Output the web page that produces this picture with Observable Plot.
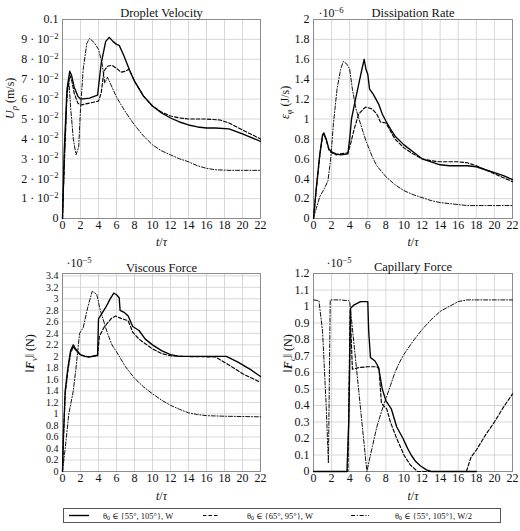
<!DOCTYPE html>
<html>
<head>
<meta charset="utf-8">
<script src="https://cdn.jsdelivr.net/npm/d3@7"></script>
<script src="https://cdn.jsdelivr.net/npm/@observablehq/plot@0.6"></script>
<style>
  body { margin: 0; background: #fff; }
  #wrap { position: relative; width: 520px; height: 531px; font-family: "Liberation Serif", "DejaVu Serif", serif; }
  .panel { position: absolute; }
  .panel svg { overflow: visible; display: block; }
  .panel svg text { font-family: "Liberation Serif", "DejaVu Serif", serif !important; }
  #legend { position: absolute; left: 63px; top: 508px; width: 438px; height: 15px; border: 1px solid #555; box-sizing: border-box; font-size: 8.5px; color: #111; }
  #legend .item { position: absolute; top: 1px; line-height: 12px; white-space: nowrap; }
  #legend svg { position: absolute; top: 0; }
  #legend sub { font-size: 6px; vertical-align: -1px; }
</style>
</head>
<body>
<div id="wrap">
  <div id="legend"></div>
</div>
<script>
// ---------- data ----------
const tTicks = [0, 2, 4, 6, 8, 10, 12, 14, 16, 18, 20, 22];

// Droplet velocity (units of 1e-2 m/s)
const velTicks = [0, 1, 2, 3, 4, 5, 6, 7, 8, 9, 10];
const velSolid = [[0,0],[0.2,3.5],[0.5,6.5],[0.8,7.4],[1.0,7.2],[1.3,6.6],[1.7,6.15],[2.0,6.0],[3.0,6.05],[3.9,6.2],[4.3,7.8],[4.8,8.9],[5.2,9.1],[5.6,8.9],[6.0,8.75],[6.3,8.7],[6.8,8.2],[7.5,7.4],[8.0,6.9],[9.0,6.15],[10.0,5.65],[11.0,5.3],[12.0,5.05],[13.0,4.85],[14.0,4.7],[15.0,4.6],[16.0,4.55],[17.0,4.55],[18.5,4.5],[20.0,4.25],[22.0,3.88]];
const velDashed = [[0,0],[0.2,3.0],[0.5,6.2],[0.8,7.2],[1.0,7.0],[1.3,6.3],[1.7,5.8],[2.0,5.7],[3.0,5.8],[4.0,5.9],[4.3,6.3],[4.6,7.4],[5.0,7.65],[5.5,7.7],[6.0,7.55],[6.5,7.35],[7.0,7.4],[7.4,7.5],[8.0,6.9],[9.0,6.15],[10.0,5.65],[11.0,5.35],[12.0,5.15],[13.0,5.05],[14.0,5.0],[15.0,5.0],[16.0,5.0],[17.5,4.95],[18.5,4.8],[20.0,4.45],[22.0,4.0]];
const velDashDot = [[0,0],[0.2,2.5],[0.5,6.3],[0.7,7.0],[0.9,5.6],[1.2,4.0],[1.5,3.2],[1.8,3.6],[2.0,5.5],[2.3,7.5],[2.7,8.8],[3.0,9.05],[3.5,8.85],[4.0,8.5],[4.4,7.8],[4.7,6.8],[5.0,7.1],[5.4,6.7],[6.0,6.1],[7.0,5.35],[8.0,4.7],[9.0,4.15],[10.0,3.7],[11.0,3.4],[12.0,3.2],[13.0,3.0],[14.0,2.85],[15.0,2.65],[16.0,2.52],[17.0,2.45],[18.5,2.42],[22.0,2.42]];

// Dissipation rate (units of 1e-6 J/s)
const dissTicks = [0, 0.2, 0.4, 0.6, 0.8, 1, 1.2, 1.4, 1.6, 1.8, 2];
const dissSolid = [[0,0],[0.3,0.3],[0.7,0.65],[1.0,0.84],[1.15,0.86],[1.4,0.8],[1.7,0.7],[2.0,0.67],[2.5,0.65],[3.0,0.64],[3.8,0.65],[4.0,0.8],[4.2,1.0],[4.6,1.18],[5.0,1.35],[5.4,1.52],[5.6,1.6],[5.8,1.5],[6.0,1.45],[6.2,1.3],[6.6,1.25],[7.2,1.15],[7.6,1.05],[8.0,0.98],[8.5,0.9],[9.0,0.83],[10.0,0.74],[11.0,0.67],[12.0,0.6],[13.0,0.57],[14.0,0.54],[15.0,0.53],[16.0,0.53],[17.0,0.53],[18.0,0.52],[19.0,0.49],[20.0,0.46],[21.0,0.43],[22.0,0.39]];
const dissDashed = [[0,0],[0.3,0.28],[0.7,0.63],[1.0,0.83],[1.15,0.85],[1.4,0.79],[1.7,0.69],[2.0,0.66],[2.5,0.64],[3.0,0.65],[3.8,0.66],[4.1,0.75],[4.5,0.9],[5.0,1.05],[5.5,1.1],[5.8,1.12],[6.5,1.1],[7.0,1.05],[7.4,0.97],[8.0,0.96],[8.5,0.88],[9.0,0.8],[10.0,0.71],[11.0,0.65],[12.0,0.6],[13.0,0.58],[14.0,0.57],[15.0,0.57],[16.0,0.57],[17.0,0.56],[18.0,0.53],[19.0,0.49],[20.0,0.45],[21.0,0.41],[22.0,0.37]];
const dissDashDot = [[0,0],[0.3,0.1],[0.7,0.22],[1.2,0.3],[1.6,0.38],[1.9,0.6],[2.2,0.95],[2.6,1.3],[3.0,1.5],[3.3,1.58],[3.7,1.55],[4.0,1.5],[4.3,1.3],[4.7,1.1],[5.2,0.95],[5.8,0.78],[6.5,0.62],[7.0,0.53],[8.0,0.42],[9.0,0.34],[10.0,0.28],[11.0,0.24],[12.0,0.21],[13.0,0.18],[14.0,0.16],[15.0,0.15],[16.0,0.14],[17.0,0.13],[19.0,0.13],[22.0,0.13]];

// Viscous force (units of 1e-5 N)
const viscTicks = [0, 0.2, 0.4, 0.6, 0.8, 1, 1.2, 1.4, 1.6, 1.8, 2, 2.2, 2.4, 2.6, 2.8, 3, 3.2, 3.4];
const viscSolid = [[0,0],[0.1,0.6],[0.3,1.4],[0.6,1.8],[0.9,2.1],[1.2,2.2],[1.5,2.12],[2.0,2.03],[2.5,2.0],[3.0,1.99],[3.9,2.02],[4.0,2.65],[4.4,2.75],[4.8,2.85],[5.3,3.0],[5.7,3.1],[6.0,3.07],[6.3,3.02],[6.4,2.8],[6.9,2.76],[7.3,2.7],[7.8,2.52],[8.5,2.45],[9.2,2.3],[10.0,2.2],[11.0,2.1],[12.0,2.03],[13.0,2.0],[18.2,2.0],[19.5,1.9],[21.0,1.76],[22.0,1.65]];
const viscDashed = [[0,0],[0.1,0.55],[0.3,1.35],[0.6,1.75],[0.9,2.05],[1.2,2.17],[1.5,2.1],[2.0,2.02],[3.0,1.99],[3.9,2.01],[4.1,2.35],[4.6,2.5],[5.0,2.58],[5.5,2.67],[5.9,2.7],[6.5,2.66],[7.3,2.62],[7.8,2.42],[8.5,2.3],[9.2,2.22],[10.0,2.13],[11.0,2.05],[12.0,2.01],[13.0,2.0],[17.0,1.99],[18.5,1.85],[20.0,1.7],[22.0,1.55]];
const viscDashDot = [[0,0],[0.3,0.4],[0.7,1.0],[1.2,1.4],[1.5,1.8],[1.9,2.4],[2.3,2.5],[2.8,2.85],[3.3,3.13],[3.8,3.08],[4.2,2.8],[4.6,2.6],[5.0,2.4],[5.5,2.2],[6.0,2.08],[7.0,1.82],[8.0,1.62],[9.0,1.47],[10.0,1.35],[11.0,1.24],[12.0,1.15],[13.0,1.08],[14.0,1.02],[15.0,0.99],[16.0,0.97],[18.0,0.96],[22.0,0.95]];

// Capillary force (units of 1e-5 N)
const capTicks = [0, 0.1, 0.2, 0.3, 0.4, 0.5, 0.6, 0.7, 0.8, 0.9, 1, 1.1, 1.2];
const capSolid = [[0,0],[3.7,0],[3.9,0.3],[4.1,0.99],[4.5,1.01],[5.2,1.03],[6.0,1.03],[6.1,0.85],[6.3,0.69],[6.8,0.67],[7.2,0.63],[7.6,0.5],[8.0,0.43],[8.6,0.38],[9.2,0.27],[9.9,0.2],[10.4,0.14],[10.8,0.1],[11.3,0.06],[11.8,0.035],[12.5,0.01],[13.0,0],[18.0,0]];
const capDashed = [[0,0],[3.8,0],[4.05,0.98],[4.3,0.62],[5.0,0.63],[6.0,0.635],[7.0,0.635],[7.25,0.62],[7.5,0.42],[7.7,0.4],[8.1,0.38],[8.5,0.3],[9.2,0.2],[10.0,0.1],[10.7,0.04],[11.5,0],[16.9,0],[17.4,0.085],[18.0,0.13],[19.0,0.22],[20.0,0.3],[21.0,0.39],[22.0,0.47]];
const capDashDot = [[0,1.04],[0.6,1.035],[1.0,0.85],[1.4,0.4],[1.65,0.05],[1.85,1.04],[3.0,1.04],[3.9,1.035],[4.0,1.03],[4.5,0.76],[5.0,0.49],[5.9,0],[6.5,0.15],[7.0,0.27],[7.5,0.36],[8.0,0.44],[8.5,0.52],[9.0,0.6],[9.5,0.66],[10.0,0.71],[11.0,0.79],[12.0,0.86],[13.0,0.92],[14.0,0.97],[15.0,1.0],[16.0,1.03],[17.0,1.04],[22.0,1.04]];

const legendLabels = ["θ<sub>0</sub> ∈ {55°, 105°}, W", "θ<sub>0</sub> ∈ {65°, 95°}, W", "θ<sub>0</sub> ∈ {55°, 105°}, W/2"];

// ---------- drawing ----------
const NS = "http://www.w3.org/2000/svg";
function richText(root) {
  root.querySelectorAll("text").forEach(el => {
    const s = el.textContent;
    if (!/(\^\{|_\{|\/i\{|\/b\{)/.test(s)) return;
    const parts = s.split(/(\^\{[^}]*\}|_\{[^}]*\}|\/i\{[^}]*\}|\/b\{[^}]*\})/).filter(p => p !== "");
    while (el.firstChild) el.removeChild(el.firstChild);
    let off = 0;
    for (const p of parts) {
      const ts = document.createElementNS(NS, "tspan");
      let txt = p, target = 0;
      if (p.startsWith("^{")) { txt = p.slice(2, -1); target = -4.5; ts.setAttribute("font-size", "0.72em"); }
      else if (p.startsWith("_{")) { txt = p.slice(2, -1); target = 3; ts.setAttribute("font-size", "0.72em"); ts.setAttribute("font-style", "italic"); }
      else if (p.startsWith("/i{")) { txt = p.slice(3, -1); ts.setAttribute("font-style", "italic"); }
      else if (p.startsWith("/b{")) { txt = p.slice(3, -1); ts.setAttribute("font-style", "italic"); ts.setAttribute("font-weight", "bold"); }
      if (target !== off) { ts.setAttribute("dy", target - off); off = target; }
      ts.textContent = txt;
      el.appendChild(ts);
    }
  });
}

const num = d => String(+d.toFixed(2));
const X = d => d[0], Y = d => d[1];

function panel(o) {
  const marks = [
    Plot.ruleX(tTicks, {stroke: "#cdcdcd", strokeWidth: 0.8}),
    Plot.ruleY(o.yTicks, {stroke: "#cdcdcd", strokeWidth: 0.8}),
    Plot.frame({stroke: "#8c8c8c"}),
    Plot.line(o.dashdot, {x: X, y: Y, stroke: "#111", strokeWidth: 1, strokeDasharray: "4,1.8,1,1.8"}),
    Plot.line(o.dashed, {x: X, y: Y, stroke: "#000", strokeWidth: 1.15, strokeDasharray: "3.5,2"}),
    Plot.line(o.solid, {x: X, y: Y, stroke: "#000", strokeWidth: 1.35}),
    // tick labels drawn through the scales
    Plot.text(tTicks, {x: d => d, frameAnchor: "bottom", dy: 10, text: d => String(d), fontSize: 12}),
    Plot.text(o.yTicks, {y: d => d, frameAnchor: "left", dx: -4, textAnchor: "end", text: o.fmt, fontSize: o.yFont || 12}),
    Plot.text([o.title], {frameAnchor: "top", dy: o.titleDy, text: d => d, fontSize: 12.5}),
    Plot.text([o.ylabel], {frameAnchor: "left", dx: o.ylabDx, rotate: -90, text: d => d, fontSize: 12}),
    Plot.text(["/i{t}//i{τ}"], {frameAnchor: "bottom", dy: o.xlabDy, text: d => d, fontSize: 12})
  ];
  if (o.mult) marks.push(Plot.text([o.mult], {frameAnchor: "top-left", dx: o.multDx, dy: o.multDy, textAnchor: "start", text: d => d, fontSize: 12}));
  const svg = Plot.plot({
    width: o.width, height: o.height,
    marginLeft: o.ml, marginRight: 8, marginTop: o.mt, marginBottom: o.mb,
    style: {fontFamily: '"Liberation Serif", "DejaVu Serif", serif', fontSize: "12px", background: "transparent", color: "#111", overflow: "visible"},
    x: {domain: [0, 22], axis: null},
    y: {domain: o.yDomain, axis: null},
    marks
  });
  richText(svg);
  const div = document.createElement("div");
  div.className = "panel";
  div.style.left = o.left + "px";
  div.style.top = o.top + "px";
  div.appendChild(svg);
  document.getElementById("wrap").appendChild(div);
}

panel({left: 0, top: 0, width: 268, height: 250, ml: 62, mt: 19, mb: 32,
  yDomain: [0, 10], yTicks: velTicks,
  fmt: d => d === 0 ? "0" : d === 10 ? "0.1" : `${d} · 10^{−2}`,
  solid: velSolid, dashed: velDashed, dashdot: velDashDot,
  title: "Droplet Velocity", titleDy: -11, ylabel: "/i{U}_{p} (m/s)", ylabDx: -52, xlabDy: 27});

panel({left: 268, top: 0, width: 252, height: 250, ml: 45, mt: 19, mb: 32,
  yDomain: [0, 2], yTicks: dissTicks, fmt: num,
  solid: dissSolid, dashed: dissDashed, dashdot: dissDashDot,
  title: "Dissipation Rate", titleDy: -11, ylabel: "/i{ε}_{φ} (J/s)", ylabDx: -28, xlabDy: 27,
  mult: "·10^{−6}", multDx: 5, multDy: -11});

panel({left: 0, top: 250, width: 268, height: 257, ml: 62, mt: 23, mb: 36,
  yDomain: [0, 3.44], yTicks: viscTicks, fmt: num, yFont: 10,
  solid: viscSolid, dashed: viscDashed, dashdot: viscDashDot,
  title: "Viscous Force", titleDy: -10, ylabel: "‖/b{F}_{v}‖ (N)", ylabDx: -32, xlabDy: 28,
  mult: "·10^{−5}", multDx: 4, multDy: -15});

panel({left: 268, top: 250, width: 252, height: 257, ml: 45, mt: 23, mb: 36,
  yDomain: [0, 1.2], yTicks: capTicks, fmt: num,
  solid: capSolid, dashed: capDashed, dashdot: capDashDot,
  title: "Capillary Force", titleDy: -11, ylabel: "‖/b{F}_{c}‖ (N)", ylabDx: -25, xlabDy: 28,
  mult: "·10^{−5}", multDx: 13, multDy: -15});

// ---------- legend ----------
const legend = document.getElementById("legend");
const styles = [
  {dash: null, w: 1.4, x0: 4, len: 20, tx: 39},
  {dash: "3.5,2", w: 1.2, x0: 138, len: 16, tx: 183},
  {dash: "4,1.8,1,1.8", w: 1.1, x0: 286, len: 18, tx: 331}
];
styles.forEach((s, i) => {
  const sv = d3.select(legend).append("svg")
    .attr("width", s.len + 2).attr("height", 13)
    .style("left", s.x0 + "px");
  sv.append("line").attr("x1", 1).attr("x2", s.len + 1).attr("y1", 6.5).attr("y2", 6.5)
    .attr("stroke", "#000").attr("stroke-width", s.w).attr("stroke-dasharray", s.dash);
  const it = document.createElement("span");
  it.className = "item";
  it.style.left = s.tx + "px";
  it.innerHTML = legendLabels[i];
  legend.appendChild(it);
});
</script>
</body>
</html>
